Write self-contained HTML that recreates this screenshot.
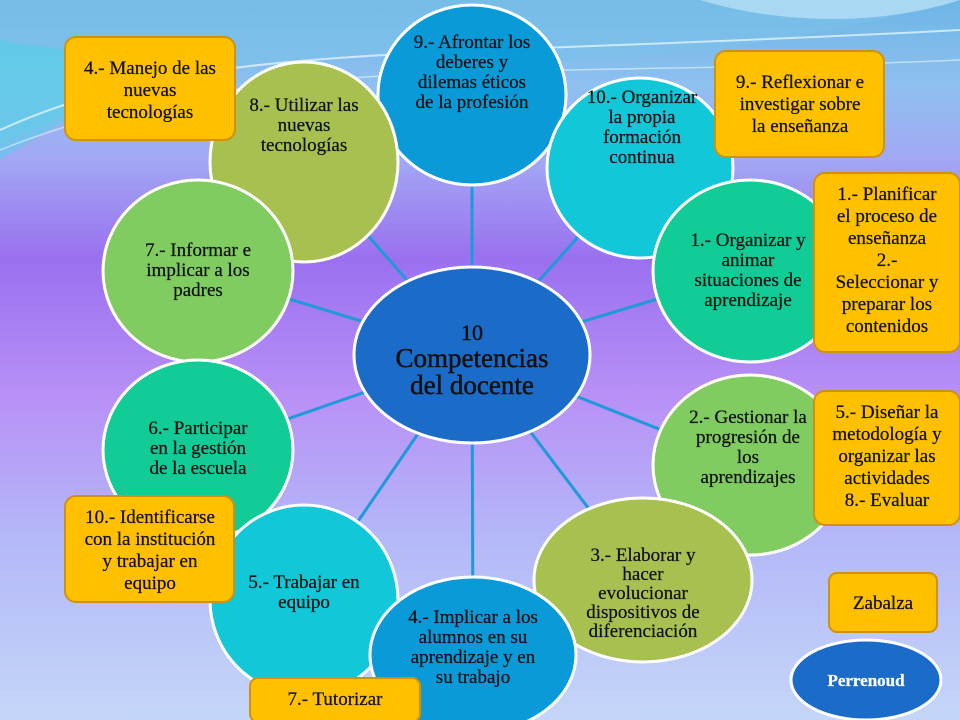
<!DOCTYPE html>
<html><head><meta charset="utf-8"><style>
html,body{margin:0;padding:0;width:960px;height:720px;overflow:hidden}
svg{display:block}
text{font-family:"Liberation Serif",serif;font-size:19px;fill:#111;text-anchor:middle;stroke:#111;stroke-width:0.25}
</style></head><body>
<svg width="960" height="720" viewBox="0 0 960 720" xmlns="http://www.w3.org/2000/svg">
<defs>
<linearGradient id="bg" x1="0" y1="0" x2="0" y2="1">
<stop offset="0" stop-color="#6cb6e6"/>
<stop offset="0.12" stop-color="#8fc0f0"/>
<stop offset="0.22" stop-color="#a2a8f4"/>
<stop offset="0.36" stop-color="#9a70f0"/>
<stop offset="0.55" stop-color="#b890f6"/>
<stop offset="0.75" stop-color="#b4b8f8"/>
<stop offset="1" stop-color="#c4d6f8"/>
</linearGradient>
</defs>
<rect width="960" height="720" fill="url(#bg)"/>
<path d="M0 145 C150 70 300 45 480 55 C650 70 800 40 960 0 L0 0Z" fill="#7cc2ea" opacity="0.6"/>
<path d="M0 160 C60 120 120 90 200 70 L0 40Z" fill="#4cd4e8" opacity="0.5"/>
<path d="M0 130 C200 40 400 60 960 30" stroke="#dff4ff" stroke-width="2" fill="none" opacity="0.8"/>
<path d="M0 150 C250 50 500 80 960 60" stroke="#e8f6ff" stroke-width="1.5" fill="none" opacity="0.6"/>
<path d="M700 0 C800 30 900 20 960 0Z" fill="#bfe4f8" opacity="0.7"/>
<g stroke="#1e9ad8" stroke-width="3">
<line x1="472" y1="355" x2="472" y2="95"/>
<line x1="472" y1="355" x2="640" y2="168"/>
<line x1="472" y1="355" x2="304" y2="162"/>
<line x1="472" y1="355" x2="198" y2="271"/>
<line x1="472" y1="355" x2="750" y2="271"/>
<line x1="472" y1="355" x2="750" y2="465"/>
<line x1="472" y1="355" x2="198" y2="450"/>
<line x1="472" y1="355" x2="304" y2="600"/>
<line x1="472" y1="355" x2="473" y2="655"/>
<line x1="472" y1="355" x2="643" y2="580"/>
</g>
<g stroke="#fff" stroke-width="3">
<ellipse cx="472" cy="95" rx="94" ry="90" fill="#0a9ad8"/>
<ellipse cx="640" cy="168" rx="93" ry="90" fill="#12c8d8"/>
<ellipse cx="304" cy="162" rx="94" ry="100" fill="#a8c050"/>
<ellipse cx="198" cy="271" rx="95" ry="91" fill="#80cc60"/>
<ellipse cx="750" cy="271" rx="97" ry="91" fill="#12cc98"/>
<ellipse cx="750" cy="465" rx="97" ry="90" fill="#80cc60"/>
<ellipse cx="198" cy="450" rx="95" ry="90" fill="#12cc98"/>
<ellipse cx="304" cy="600" rx="94" ry="95" fill="#12c8d8"/>
<ellipse cx="643" cy="580" rx="109" ry="82" fill="#a8c050"/>
<ellipse cx="473" cy="655" rx="103" ry="78" fill="#0a9ad8"/>
<ellipse cx="472" cy="355" rx="118" ry="88" fill="#1a6cc8"/>
</g>
<text x="472" y="48"><tspan x="472">9.- Afrontar los</tspan><tspan x="472" dy="20">deberes y</tspan><tspan x="472" dy="20">dilemas éticos</tspan><tspan x="472" dy="20">de la profesión</tspan></text>
<text x="642" y="103"><tspan x="642">10.- Organizar</tspan><tspan x="642" dy="20">la propia</tspan><tspan x="642" dy="20">formación</tspan><tspan x="642" dy="20">continua</tspan></text>
<text x="304" y="111"><tspan x="304">8.- Utilizar las</tspan><tspan x="304" dy="20">nuevas</tspan><tspan x="304" dy="20">tecnologías</tspan></text>
<text x="198" y="256"><tspan x="198">7.- Informar e</tspan><tspan x="198" dy="20">implicar a los</tspan><tspan x="198" dy="20">padres</tspan></text>
<text x="748" y="246"><tspan x="748">1.- Organizar y</tspan><tspan x="748" dy="20">animar</tspan><tspan x="748" dy="20">situaciones de</tspan><tspan x="748" dy="20">aprendizaje</tspan></text>
<text x="748" y="423"><tspan x="748">2.- Gestionar la</tspan><tspan x="748" dy="20">progresión de</tspan><tspan x="748" dy="20">los</tspan><tspan x="748" dy="20">aprendizajes</tspan></text>
<text x="198" y="434"><tspan x="198">6.- Participar</tspan><tspan x="198" dy="20">en la gestión</tspan><tspan x="198" dy="20">de la escuela</tspan></text>
<text x="304" y="588"><tspan x="304">5.- Trabajar en</tspan><tspan x="304" dy="20">equipo</tspan></text>
<text x="643" y="561"><tspan x="643">3.- Elaborar y</tspan><tspan x="643" dy="19">hacer</tspan><tspan x="643" dy="19">evolucionar</tspan><tspan x="643" dy="19">dispositivos de</tspan><tspan x="643" dy="19">diferenciación</tspan></text>
<text x="473" y="623"><tspan x="473">4.- Implicar a los</tspan><tspan x="473" dy="20">alumnos en su</tspan><tspan x="473" dy="20">aprendizaje y en</tspan><tspan x="473" dy="20">su trabajo</tspan></text>
<text x="472" y="340" style="font-size:27px;stroke-width:0.5"><tspan x="472" style="font-size:22px">10</tspan><tspan x="472" dy="27">Competencias</tspan><tspan x="472" dy="27">del docente</tspan></text>
<g fill="#ffc000" stroke="#d09010" stroke-width="2">
<rect x="65" y="37" width="170" height="103" rx="11"/>
<rect x="715" y="51" width="169" height="106" rx="11"/>
<rect x="814" y="173" width="146" height="179" rx="11"/>
<rect x="814" y="391" width="146" height="134" rx="11"/>
<rect x="65" y="496" width="169" height="106" rx="11"/>
<rect x="829" y="573" width="108" height="59" rx="8"/>
<rect x="250" y="678" width="170" height="44" rx="8"/>
</g>
<text x="150" y="74"><tspan x="150">4.- Manejo de las</tspan><tspan x="150" dy="22">nuevas</tspan><tspan x="150" dy="22">tecnologías</tspan></text>
<text x="800" y="88"><tspan x="800">9.- Reflexionar e</tspan><tspan x="800" dy="22">investigar sobre</tspan><tspan x="800" dy="22">la enseñanza</tspan></text>
<text x="887" y="200"><tspan x="887">1.- Planificar</tspan><tspan x="887" dy="22">el proceso de</tspan><tspan x="887" dy="22">enseñanza</tspan><tspan x="887" dy="22">2.-</tspan><tspan x="887" dy="22">Seleccionar y</tspan><tspan x="887" dy="22">preparar los</tspan><tspan x="887" dy="22">contenidos</tspan></text>
<text x="887" y="418"><tspan x="887">5.- Diseñar la</tspan><tspan x="887" dy="22">metodología y</tspan><tspan x="887" dy="22">organizar las</tspan><tspan x="887" dy="22">actividades</tspan><tspan x="887" dy="22">8.- Evaluar</tspan></text>
<text x="150" y="523"><tspan x="150">10.- Identificarse</tspan><tspan x="150" dy="22">con la institución</tspan><tspan x="150" dy="22">y trabajar en</tspan><tspan x="150" dy="22">equipo</tspan></text>
<text x="883" y="609">Zabalza</text>
<text x="335" y="705">7.- Tutorizar</text>
<ellipse cx="866" cy="680" rx="75" ry="40" fill="#1a6cc8" stroke="#fff" stroke-width="3"/>
<text x="866" y="686" style="fill:#fff;stroke:#fff;font-weight:bold;font-size:17px">Perrenoud</text>
</svg>
</body></html>
